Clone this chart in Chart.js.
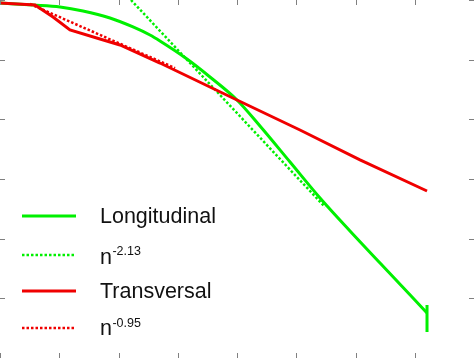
<!DOCTYPE html>
<html>
<head>
<meta charset="utf-8">
<script src="https://cdn.jsdelivr.net/npm/chart.js@4/dist/chart.umd.min.js"></script>
<style>
html,body{margin:0;padding:0;background:#fff;}
#wrap{width:474px;height:358px;position:relative;}
</style>
</head>
<body>
<div id="wrap"><canvas id="c" width="474" height="358"></canvas></div>
<script>
// Axis tick positions (axis units)
const xTicks = [0, 1, 2, 3, 4, 5, 6, 7, 8];
const yTicks = [0, 1, 2, 3, 4, 5, 6];

// Longitudinal (green solid)
const longX = [0, 0.557, 1.013, 1.401, 1.857, 2.245, 2.532, 2.700, 3.156, 3.544, 4.000, 4.388, 4.895, 5.401, 5.907, 6.414, 7.207];
const longY = [5.950, 5.916, 5.883, 5.816, 5.698, 5.548, 5.413, 5.313, 5.011, 4.710, 4.324, 3.888, 3.285, 2.682, 2.129, 1.592, 0.755];
// error bar at last Longitudinal point
const errX = [7.207, 7.207];
const errY = [0.889, 0.436];
// n^-2.13 fit (green dotted)
const fitLongX = [2.211, 5.485];
const fitLongY = [6.0, 2.531];

// Transversal (red solid)
const transX = [0, 0.591, 0.895, 1.181, 1.688, 2.025, 2.700, 4.000, 5.063, 6.076, 7.207];
const transY = [5.950, 5.916, 5.715, 5.497, 5.347, 5.246, 4.944, 4.324, 3.821, 3.319, 2.799];
// n^-0.95 fit (red dotted)
const fitTransX = [0.506, 2.954];
const fitTransY = [5.933, 4.860];

// Legend entries
const legendLabels = ['Longitudinal', 'n', 'Transversal', 'n'];
const legendSups = ['', '-2.13', '', '-0.95'];

const GREEN = '#00f000';
const RED = '#f00000';

function pts(xs, ys){ return xs.map((x,i)=>({x:x, y:ys[i]})); }

const ticksPlugin = {
  id: 'edgeTicks',
  afterDraw(chart){
    const ctx = chart.ctx, xs = chart.scales.x, ys = chart.scales.y;
    const W = chart.width, H = chart.height;
    ctx.save();
    ctx.strokeStyle = '#808080';
    ctx.lineWidth = 1;
    ctx.beginPath();
    xTicks.forEach(v=>{
      const px = Math.round(xs.getPixelForValue(v)) + 0.5;
      ctx.moveTo(px, 0); ctx.lineTo(px, 5);
      ctx.moveTo(px, H); ctx.lineTo(px, H-5);
    });
    yTicks.forEach(v=>{
      const py = Math.round(ys.getPixelForValue(v)) + 0.5;
      ctx.moveTo(0, py); ctx.lineTo(5, py);
      ctx.moveTo(W, py); ctx.lineTo(W-5, py);
    });
    ctx.stroke();

    // legend
    const rows = [
      {y:216, color:GREEN, dash:[]},
      {y:255, color:GREEN, dash:[2.5,2]},
      {y:291, color:RED, dash:[]},
      {y:328, color:RED, dash:[2.5,2]}
    ];
    const base = [223, 264, 298, 335];
    const supBase = [0, 255, 0, 327];
    rows.forEach((r,i)=>{
      ctx.beginPath();
      ctx.setLineDash(r.dash);
      ctx.strokeStyle = r.color;
      ctx.lineWidth = r.dash.length ? 2.5 : 3;
      ctx.moveTo(22, r.y); ctx.lineTo(76, r.y);
      ctx.stroke();
      ctx.setLineDash([]);
      ctx.fillStyle = '#111';
      ctx.textBaseline = 'alphabetic';
      ctx.textAlign = 'left';
      ctx.font = '21.5px "Liberation Sans", Arial, sans-serif';
      ctx.fillText(legendLabels[i], 100, base[i]);
      if (legendSups[i]) {
        const w = ctx.measureText(legendLabels[i]).width;
        ctx.font = '12.5px "Liberation Sans", Arial, sans-serif';
        ctx.fillText(legendSups[i], 100 + w + 0.5, supBase[i]);
      }
    });
    ctx.restore();
  }
};

new Chart(document.getElementById('c'), {
  type: 'line',
  data: {
    datasets: [
      {label:'Transversal', data: pts(transX, transY), borderColor: RED, borderWidth: 3, pointRadius: 0, tension: 0},
      {label:'n^-0.95', data: pts(fitTransX, fitTransY), borderColor: RED, borderWidth: 2.5, borderDash:[2.5,2], pointRadius: 0},
      {label:'err', data: pts(errX, errY), borderColor: GREEN, borderWidth: 3, pointRadius: 0},
      {label:'Longitudinal', data: pts(longX, longY), borderColor: GREEN, borderWidth: 3, pointRadius: 0, cubicInterpolationMode: 'monotone'},
      {label:'n^-2.13', data: pts(fitLongX, fitLongY), borderColor: GREEN, borderWidth: 2.5, borderDash:[2.5,2], pointRadius: 0}
    ]
  },
  options: {
    responsive: false,
    animation: false,
    layout: {padding: 0},
    plugins: {legend: {display: false}, tooltip: {enabled: false}},
    scales: {
      x: {type: 'linear', min: 0, max: 8, display: false},
      y: {type: 'linear', min: 0, max: 6, display: false}
    }
  },
  plugins: [ticksPlugin]
});
</script>
</body>
</html>
